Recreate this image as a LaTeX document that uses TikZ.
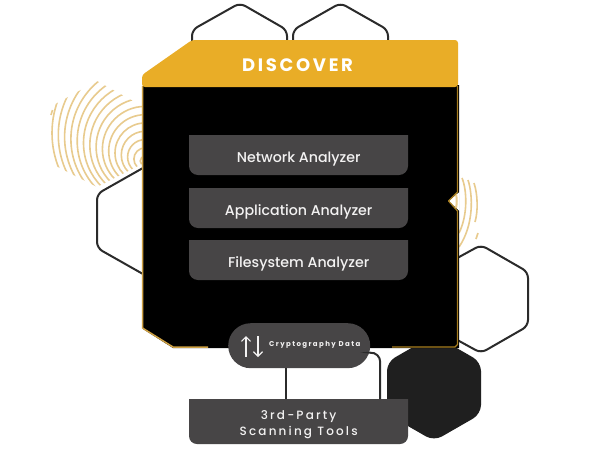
\documentclass[tikz,border=0pt]{standalone}
\usepackage{fontspec}
\setmainfont{Poppins}
\newfontfamily\reg{Poppins Medium}
\newfontfamily\regw{Poppins}[LetterSpace=20]
\newfontfamily\regs{Poppins Medium}[LetterSpace=18]
\newfontfamily\boldw{Poppins}[LetterSpace=15]
\usetikzlibrary{arrows.meta}
\definecolor{gold}{HTML}{E9AD27}
\definecolor{goldline}{HTML}{CDA043}
\definecolor{darkgold}{HTML}{A87E1F}
\definecolor{print}{HTML}{E8CB8E}
\definecolor{hexline}{HTML}{2B2B2B}
\definecolor{hexfill}{HTML}{1F1F1F}
\definecolor{boxgrey}{HTML}{474546}
\definecolor{lbl}{HTML}{F3F2F2}
\tikzset{
  hexedge/.style={draw=hexline,line width=2pt,rounded corners=6pt},
  ridge/.style={draw=print,line width=1.6pt},
  greyfill/.style={fill=boxgrey,rounded corners=9pt},
  anatext/.style={text=lbl,font=\reg\fontsize{14.2}{16}\selectfont,inner sep=0pt,minimum width=219pt,minimum height=48pt,anchor=north west},
  link/.style={draw=hexline,line width=2pt},
  icon/.style={draw=lbl,line width=1.2pt,-{Straight Barb[length=4.5pt,width=9pt]}}
}
\newcommand{\anabox}[3]{%
  \path[greyfill] (189,#2) [sharp corners] -- (408,#2) [rounded corners=9pt] -- (408,#2+40) -- (189,#2+40) [sharp corners] -- (189,#2) -- cycle;
  \node[anatext] (#1) at (189,#2) {#3};
}
\begin{document}
\begin{tikzpicture}[x=1pt,y=-1pt]
\useasboundingbox (0,0) rectangle (600,453);
\fill[white] (0,0) rectangle (600,453);
% fingerprints
\begin{scope}
  \clip (97,81) -- (144,107) -- (144,163) -- (97,187) -- (50,163) -- (50,107) -- cycle;
  \foreach \k in {0,...,14} {
    \draw[ridge] (145,{133+2*\k}) circle ({93-6.3*\k});
  }
\end{scope}
\draw[ridge] (51,115) -- (52.5,110);
\draw[ridge] (462,178) .. controls (467,190) and (468,215) .. (459,233);
\draw[ridge] (468,180) .. controls (473,195) and (474,225) .. (459,247);
\draw[ridge] (474,183) .. controls (478,195) and (478,212) .. (475,222);
\draw[ridge] (478,233) -- (476,239);
% hexagon outlines
\draw[hexedge] (192,45) -- (192,30) -- (240,3) -- (287,30) -- (287,45);
\draw[hexedge] (293,45) -- (293,30) -- (340.5,3) -- (388,30) -- (388,45);
\draw[hexedge] (150,164) -- (97,194) -- (97,248) -- (150,278);
\draw[hexedge] (450,262) -- (481,245) -- (528,272) -- (528,326) -- (481,353) -- (450,336);
\fill[hexfill,rounded corners=9pt] (434,335) -- (481,362) -- (481,414) -- (434,441) -- (387,414) -- (387,362) -- cycle;
% panel
\fill[black] (143,85) -- (459,85) -- (459,348) -- (173,348) -- (143,329) -- cycle;
\fill[white] (459.5,192) -- (448.5,201) -- (459.5,211) -- cycle;
\draw[print,line width=2pt] (456,194) .. controls (457,199) and (457,203) .. (456,208);
\draw[goldline,line width=1.5pt,line join=round] (142.5,86) -- (142.5,328) -- (173,347) -- (208,347);
\draw[darkgold,line width=1.2pt,line join=round] (392,347) -- (455,347) -- (457.5,344.5) -- (457.5,211) -- (448.5,201) -- (457.5,192) -- (457.5,86);
\fill[gold,rounded corners=3pt] (142,87) -- (142,75) -- (192,40) -- (458,40) -- (458,87) -- cycle;
\node[text=white,inner sep=0pt,font=\boldw\bfseries\fontsize{18}{20}\selectfont] (title) at (297.5,65.5) {DISCOVER};
% analyzers
\anabox{net}{135}{Network Analyzer}
\anabox{app}{188}{Application Analyzer}
\anabox{fs}{240}{Filesystem Analyzer}
% bottom nodes
\path[fill=boxgrey,rounded corners=8pt] (189,399) [sharp corners] -- (408,399) [rounded corners=8pt] -- (408,444) -- (189,444) [sharp corners] -- cycle;
\node[inner sep=0pt,minimum width=219pt,minimum height=51pt,anchor=north west,align=center,text=lbl,font=\regs\fontsize{12}{16}\selectfont] (tools) at (189,399) {3rd-Party\\Scanning Tools};
\node[fill=boxgrey,rounded corners=22.5pt,inner sep=0pt,minimum width=142pt,minimum height=45pt,anchor=north west] (pill) at (228,323) {};
\draw[link] ([xshift=-12.5pt]tools.north) -- ([xshift=-12.5pt]tools.north |- pill.south);
\draw[link,rounded corners=10pt] ([xshift=81.5pt]tools.north) -- ++(0,-47) -- ([yshift=-7pt]pill.east);
\node[text=lbl,inner sep=0pt,anchor=west,font=\regw\bfseries\fontsize{7}{9}\selectfont] (cdata) at (269,345) {Cryptography Data};
\draw[icon] (246,357) -- (246,336);
\draw[icon] (258,336) -- (258,357);
\end{tikzpicture}
\end{document}
